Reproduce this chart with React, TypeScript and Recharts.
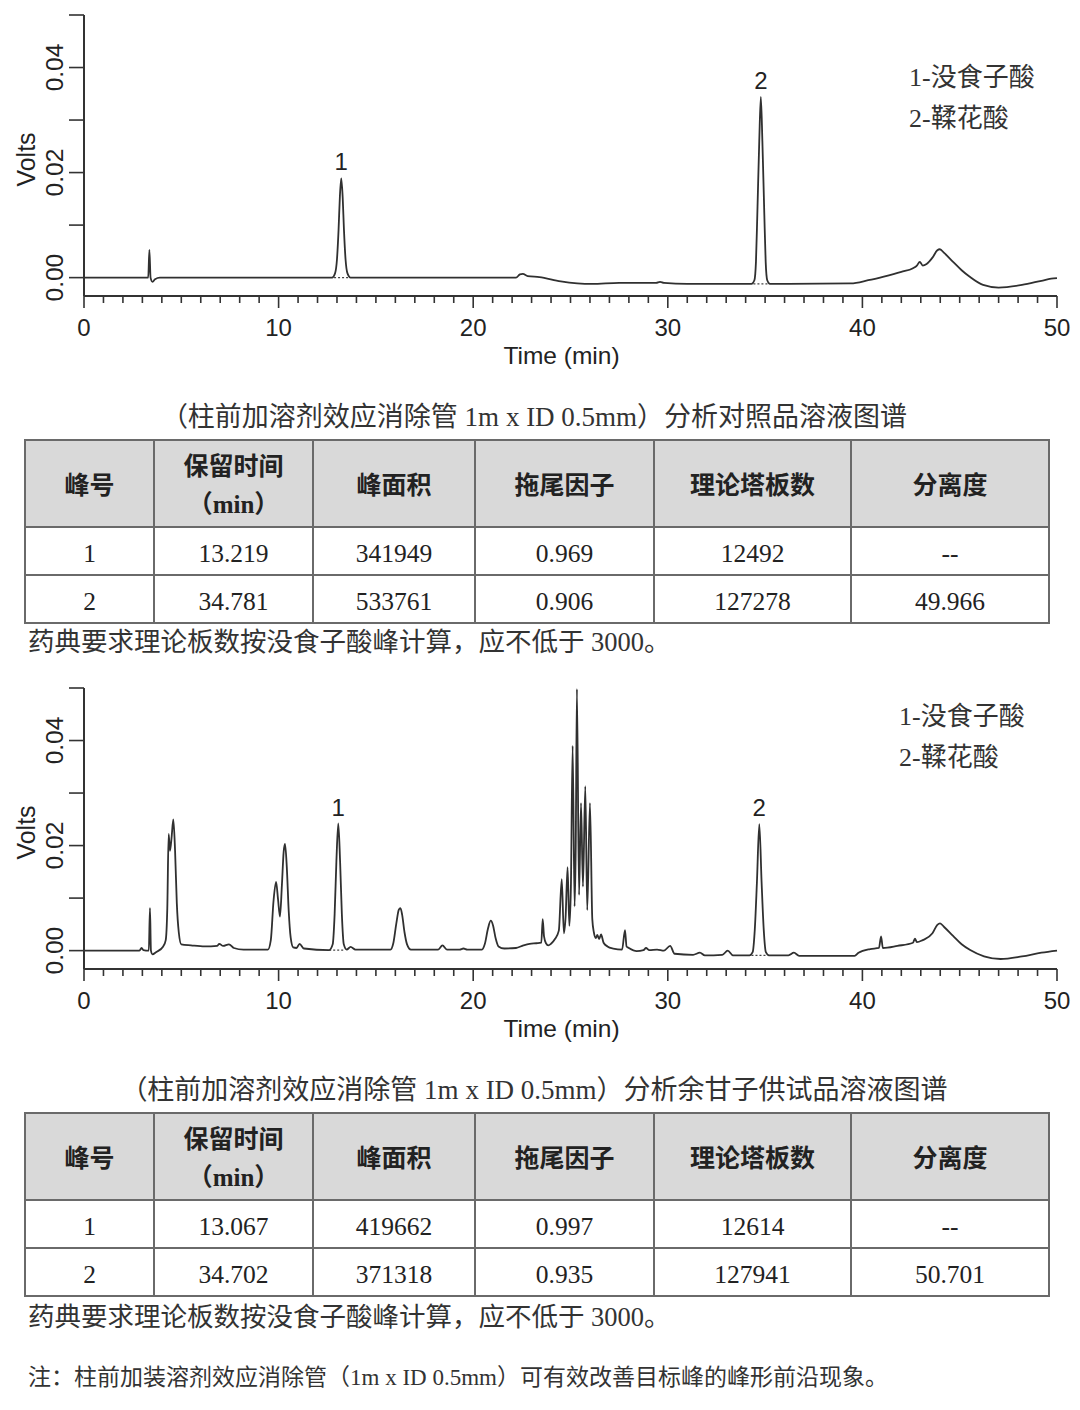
import React from 'react';
import { LineChart, Line, XAxis, YAxis, ReferenceDot, ReferenceLine } from 'recharts';

// ---------- Chromatogram 1: reference standard solution ----------
const stdTime = [
  0, 3.3, 3.36, 3.42, 3.52, 3.65, 3.9,
  12.75, 12.9, 13.0, 13.08, 13.15, 13.219, 13.29, 13.36, 13.44, 13.54, 13.7,
  22.2, 22.4, 22.55, 22.8, 23.4, 24.5, 26.1, 27.5, 29.4, 29.6, 29.8, 31.0,
  34.3, 34.45, 34.53, 34.6, 34.7, 34.781, 34.86, 34.96, 35.03, 35.11, 35.25,
  39.4, 40.3, 41.1, 42.0, 42.6, 42.8, 42.95, 43.1, 43.3, 43.6, 43.85, 43.98,
  44.2, 44.66, 45.1, 45.5, 46.2, 47.0, 48.2, 49.2, 49.7, 50,
];
const stdVolts = [
  0, 0, 0.0053, 0, -0.0008, -0.0003, 0,
  0, 0.0008, 0.0035, 0.009, 0.0155, 0.0189, 0.0155, 0.009, 0.0035, 0.0008, 0,
  0, 0.0006, 0.0007, 0.0003, 0.0001, -0.0007, -0.0012, -0.001, -0.001, -0.0008, -0.001, -0.0012,
  -0.0012, -0.0005, 0.003, 0.012, 0.026, 0.0344, 0.026, 0.012, 0.003, -0.0005, -0.0012,
  -0.0011, -0.0005, 0.0002, 0.0011, 0.0018, 0.0023, 0.003, 0.0023, 0.0026, 0.0038, 0.0052, 0.0054,
  0.0047, 0.003, 0.0014, 0.0002, -0.0014, -0.0019, -0.0014, -0.0006, -0.0002, -0.0001,
];

// ---------- Chromatogram 2: 余甘子 test solution ----------
const sampleTime = [
  0, 2.85, 2.96, 3.05, 3.33, 3.39, 3.44, 3.52, 3.7, 4.07,
  4.2, 4.28, 4.35, 4.42, 4.5, 4.59, 4.68, 4.77, 4.87, 5.0,
  5.5, 6.2, 6.85, 6.95, 7.15, 7.45, 7.7, 8.2,
  9.45, 9.6, 9.74, 9.87, 9.97, 10.07, 10.17, 10.26, 10.33, 10.42, 10.52, 10.62, 10.75, 10.92, 11.08, 11.3,
  12.6, 12.78, 12.88, 12.97, 13.067, 13.16, 13.25, 13.35, 13.5, 13.7, 13.95,
  15.75, 15.9, 16.05, 16.18, 16.26, 16.35, 16.47, 16.6, 16.8,
  18.2, 18.42, 18.65, 19.3, 19.5, 19.7,
  20.45, 20.6, 20.76, 20.9, 21.02, 21.15, 21.3, 21.6,
  22.2, 22.58, 22.9, 23.25, 23.5, 23.57, 23.64, 23.74, 23.86, 24.0, 24.2, 24.4,
  24.55, 24.66, 24.75, 24.85, 24.94, 25.02, 25.11, 25.21, 25.27, 25.33, 25.44,
  25.54, 25.64, 25.76, 25.86, 26.0, 26.12, 26.2, 26.3, 26.38, 26.47, 26.57, 26.7, 26.9, 27.2,
  27.65, 27.8, 27.88, 28.0, 28.4, 28.75, 28.88, 29.05, 29.45, 29.8, 30.12, 30.35,
  31.3, 31.65, 31.9, 32.8, 33.08, 33.35,
  34.2, 34.36, 34.47, 34.58, 34.702, 34.82, 34.93, 35.04, 35.2,
  36.2, 36.48, 36.75, 39.6, 39.8, 40.4, 40.85, 40.96, 41.05, 41.8,
  42.6, 42.7, 42.8, 43.1, 43.6, 43.85, 43.99, 44.2, 44.66, 45.1, 45.54,
  46.25, 47.1, 48.2, 49.2, 50,
];
const sampleVolts = [
  0, 0, 0.0005, 0.0001, 0, 0.0081, 0, -0.0007, -0.0003, 0.0008,
  0.002, 0.008, 0.0222, 0.019, 0.0215, 0.025, 0.019, 0.009, 0.0035, 0.0012,
  0.001, 0.0008, 0.0009, 0.0013, 0.0009, 0.0012, 0.0005, 0.0002,
  0.0002, 0.002, 0.0095, 0.0131, 0.0098, 0.0065, 0.0125, 0.0188, 0.0203, 0.016, 0.0075, 0.0025, 0.0006, 0.0005, 0.0013, 0.0004,
  0.0001, 0.0012, 0.007, 0.017, 0.0242, 0.017, 0.007, 0.0012, 0.0002, 0.0007, 0.0002,
  0.0002, 0.0015, 0.0052, 0.0078, 0.0081, 0.0068, 0.0035, 0.0012, 0.0002,
  0.0002, 0.001, 0.0002, 0.0002, 0.0004, 0.0002,
  0.0002, 0.0013, 0.0042, 0.0057, 0.0048, 0.0024, 0.0008, 0.0004,
  0.0005, 0.001, 0.0013, 0.0014, 0.0015, 0.006, 0.0027, 0.0014, 0.001, 0.0013, 0.0022, 0.0038,
  0.0136, 0.0033, 0.0065, 0.0159, 0.0047, 0.012, 0.039, 0.0084, 0.02, 0.0498, 0.0106,
  0.0281, 0.0122, 0.0313, 0.0077, 0.0281, 0.006, 0.0035, 0.0024, 0.003, 0.0022, 0.0031, 0.0015, 0.0008, 0.0004,
  0.0002, 0.0039, 0.0008, 0.0005, -0.0001, 0.0001, 0.0005, 0.0001, 0.0002, 0, 0.0009, -0.0006,
  -0.0008, -0.0004, -0.0009, -0.0008, 0, -0.0009,
  -0.0009, -0.0003, 0.004, 0.013, 0.0241, 0.013, 0.004, -0.0003, -0.0009,
  -0.0009, -0.0004, -0.001, -0.001, -0.0004, 0.0003, 0.0005, 0.0027, 0.0005, 0.0009,
  0.0015, 0.0023, 0.0016, 0.002, 0.0033, 0.0049, 0.0052, 0.0045, 0.0028, 0.0012, 0.0001,
  -0.0011, -0.0016, -0.0011, -0.0004, 0,
];

// Labelled peaks (1 = 没食子酸, 2 = 鞣花酸)
const peakNames = ['1', '2'];
const stdPeakTime = [13.219, 34.781];
const stdPeakHeight = [0.0189, 0.0344];
const samplePeakTime = [13.067, 34.702];
const samplePeakHeight = [0.0242, 0.0241];

// Integration baselines drawn under the labelled peaks
const stdBaseFrom = [12.85, 34.4];
const stdBaseTo = [13.6, 35.15];
const stdBaseLevel = [0, -0.0012];
const sampleBaseFrom = [12.6, 34.3];
const sampleBaseTo = [13.4, 35.1];
const sampleBaseLevel = [0.0001, -0.0009];

const legendLines = ['1-没食子酸', '2-鞣花酸'];

const xMajorTicks = [0, 10, 20, 30, 40, 50];
const xAllTicks = Array.from({ length: 51 }, (_, i) => i);
const yTicks = [0, 0.01, 0.02, 0.03, 0.04, 0.05];
const yLabelledTicks = [0, 0.02, 0.04];

// ---------- Tables ----------
const headerLines = [['峰号'], ['保留时间', '（min）'], ['峰面积'], ['拖尾因子'], ['理论塔板数'], ['分离度']];
const colWidths = [129, 159, 162, 179, 197, 198];

const stdPeakNo = ['1', '2'];
const stdRetention = ['13.219', '34.781'];
const stdArea = ['341949', '533761'];
const stdTailing = ['0.969', '0.906'];
const stdPlates = ['12492', '127278'];
const stdResolution = ['--', '49.966'];

const samplePeakNo = ['1', '2'];
const sampleRetention = ['13.067', '34.702'];
const sampleArea = ['419662', '371318'];
const sampleTailing = ['0.997', '0.935'];
const samplePlates = ['12614', '127941'];
const sampleResolution = ['--', '50.701'];

const stdCaption = '（柱前加溶剂效应消除管 1m x ID 0.5mm）分析对照品溶液图谱';
const sampleCaption = '（柱前加溶剂效应消除管 1m x ID 0.5mm）分析余甘子供试品溶液图谱';
const pharmacopoeiaNote = '药典要求理论板数按没食子酸峰计算，应不低于 3000。';
const footNote = '注：柱前加装溶剂效应消除管（1m x ID 0.5mm）可有效改善目标峰的峰形前沿现象。';

const SANS = "'Liberation Sans', Arial, sans-serif";
const SERIF_CJK = "'Liberation Serif', 'Noto Sans CJK SC', serif";
const INK = '#222';
const AXIS = '#333';

const zip = (t: number[], v: number[]) => t.map((x, i) => ({ t: x, v: v[i] }));

const XTick = (props: any) => {
  const { x, y, payload } = props;
  const major = xMajorTicks.includes(payload.value);
  return (
    <g>
      <line x1={x} x2={x} y1={y} y2={y + (major ? 12 : 7)} stroke={AXIS} strokeWidth={1.6} />
      {major && (
        <text x={x} y={y + 40} textAnchor="middle" fontSize={24} fill={INK} fontFamily={SANS}>
          {payload.value}
        </text>
      )}
    </g>
  );
};

const YTick = (props: any) => {
  const { x, y, payload } = props;
  const labelled = yLabelledTicks.includes(payload.value);
  const tx = x - 21;
  return (
    <g>
      <line x1={x - 15} x2={x} y1={y} y2={y} stroke={AXIS} strokeWidth={1.6} />
      {labelled && (
        <text
          x={tx}
          y={y}
          textAnchor="middle"
          fontSize={24.5}
          fill={INK}
          fontFamily={SANS}
          transform={`rotate(-90 ${tx} ${y})`}
        >
          {payload.value.toFixed(2)}
        </text>
      )}
    </g>
  );
};

const VoltsLabel = (props: any) => {
  const vb = props.viewBox;
  const cx = 35;
  const cy = vb.y + vb.height / 2 + 4;
  return (
    <text x={cx} y={cy} textAnchor="middle" fontSize={25} fill={INK} fontFamily={SANS} transform={`rotate(-90 ${cx} ${cy})`}>
      Volts
    </text>
  );
};

const TimeLabel = (props: any) => {
  const vb = props.viewBox;
  return (
    <text x={vb.x + vb.width / 2 - 9} y={vb.y + 68} textAnchor="middle" fontSize={24.5} fill={INK} fontFamily={SANS}>
      Time (min)
    </text>
  );
};

type ChromProps = {
  time: number[];
  volts: number[];
  peakTime: number[];
  peakHeight: number[];
  baseFrom: number[];
  baseTo: number[];
  baseLevel: number[];
};

const Chromatogram = ({ time, volts, peakTime, peakHeight, baseFrom, baseTo, baseLevel }: ChromProps) => (
  <LineChart
    width={1080}
    height={380}
    data={zip(time, volts)}
    margin={{ top: 15, right: 23, left: 0, bottom: 0 }}
    style={{ fontFamily: SANS }}
  >
    <XAxis
      dataKey="t"
      type="number"
      domain={[0, 50]}
      ticks={xAllTicks}
      interval={0}
      tickSize={0}
      tickMargin={0}
      tickLine={false}
      tick={<XTick />}
      axisLine={{ stroke: AXIS, strokeWidth: 2 }}
      height={84}
      label={<TimeLabel />}
    />
    <YAxis
      type="number"
      domain={[-0.0035, 0.05]}
      ticks={yTicks}
      interval={0}
      allowDataOverflow
      tickSize={0}
      tickMargin={0}
      tickLine={false}
      tick={<YTick />}
      axisLine={{ stroke: AXIS, strokeWidth: 2 }}
      width={84}
      label={<VoltsLabel />}
    />
    {baseFrom.map((from, i) => (
      <ReferenceLine
        key={`base-${i}`}
        segment={[
          { x: from, y: baseLevel[i] },
          { x: baseTo[i], y: baseLevel[i] },
        ]}
        stroke="#444"
        strokeWidth={1.2}
        strokeDasharray="2 2"
      />
    ))}
    <Line
      type="monotone"
      dataKey="v"
      stroke="#303030"
      strokeWidth={1.8}
      dot={false}
      isAnimationActive={false}
    />
    {peakTime.map((t, i) => (
      <ReferenceDot
        key={`peak-${i}`}
        x={t}
        y={peakHeight[i]}
        r={0}
        fill="none"
        stroke="none"
        label={{ value: peakNames[i], position: 'top', offset: 8, fontSize: 24, fill: INK, fontFamily: SANS }}
      />
    ))}
  </LineChart>
);

const Legend = ({ left, top }: { left: number; top: number }) => (
  <div style={{ position: 'absolute', left, top, fontFamily: SERIF_CJK, fontSize: 26, color: '#333', lineHeight: '41px' }}>
    {legendLines.map((s) => (
      <div key={s}>{s}</div>
    ))}
  </div>
);

const cellBorder = '2px solid #6a6a6a';

type TableProps = {
  top: number;
  cols: string[][];
};

const PeakTable = ({ top, cols }: TableProps) => (
  <table
    style={{
      position: 'absolute',
      left: 24,
      top,
      width: 1024,
      borderCollapse: 'collapse',
      tableLayout: 'fixed',
      color: INK,
      fontFamily: SERIF_CJK,
    }}
  >
    <colgroup>
      {colWidths.map((w, i) => (
        <col key={i} style={{ width: w }} />
      ))}
    </colgroup>
    <tbody>
      <tr style={{ height: 87 }}>
        {headerLines.map((lines, i) => (
          <td
            key={i}
            style={{
              border: cellBorder,
              background: '#d9d9d9',
              textAlign: 'center',
              fontWeight: 700,
              fontSize: 25,
              lineHeight: '38px',
              padding: '5px 0 0 0',
            }}
          >
            {lines.map((l) => (
              <div key={l}>{l}</div>
            ))}
          </td>
        ))}
      </tr>
      {cols[0].map((_, r) => (
        <tr key={r} style={{ height: 48 }}>
          {cols.map((c, ci) => (
            <td key={ci} style={{ border: cellBorder, textAlign: 'center', fontSize: 25.5, padding: '6px 0 0 0' }}>
              {c[r]}
            </td>
          ))}
        </tr>
      ))}
    </tbody>
  </table>
);

const TextLine = ({ text, top, left, center, size, color }: any) => (
  <div
    style={{
      position: 'absolute',
      top,
      left: center ? -6 : left,
      width: center ? 1080 : undefined,
      textAlign: center ? 'center' : 'left',
      fontFamily: SERIF_CJK,
      fontSize: size,
      lineHeight: `${size + 6}px`,
      color,
      whiteSpace: 'nowrap',
    }}
  >
    {text}
  </div>
);

export default function App() {
  return (
    <div style={{ position: 'absolute', left: 0, top: 0, width: 1080, height: 1410, background: '#fff', overflow: 'hidden' }}>
      <div style={{ position: 'absolute', left: 0, top: 0 }}>
        <Chromatogram
          time={stdTime}
          volts={stdVolts}
          peakTime={stdPeakTime}
          peakHeight={stdPeakHeight}
          baseFrom={stdBaseFrom}
          baseTo={stdBaseTo}
          baseLevel={stdBaseLevel}
        />
      </div>
      <Legend left={909} top={57} />
      <TextLine text={stdCaption} top={401} center size={27} color="#333" />
      <PeakTable top={439} cols={[stdPeakNo, stdRetention, stdArea, stdTailing, stdPlates, stdResolution]} />
      <TextLine text={pharmacopoeiaNote} top={626} left={28} size={26.5} color="#333" />

      <div style={{ position: 'absolute', left: 0, top: 673 }}>
        <Chromatogram
          time={sampleTime}
          volts={sampleVolts}
          peakTime={samplePeakTime}
          peakHeight={samplePeakHeight}
          baseFrom={sampleBaseFrom}
          baseTo={sampleBaseTo}
          baseLevel={sampleBaseLevel}
        />
      </div>
      <Legend left={899} top={696} />
      <TextLine text={sampleCaption} top={1074} center size={27} color="#333" />
      <PeakTable top={1112} cols={[samplePeakNo, sampleRetention, sampleArea, sampleTailing, samplePlates, sampleResolution]} />
      <TextLine text={pharmacopoeiaNote} top={1301} left={28} size={26.5} color="#333" />
      <TextLine text={footNote} top={1363} left={28} size={23} color="#333" />
    </div>
  );
}
